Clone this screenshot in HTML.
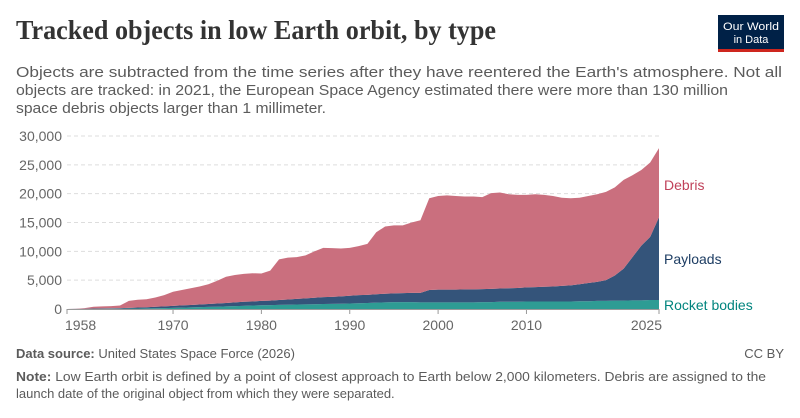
<!DOCTYPE html>
<html><head><meta charset="utf-8"><style>
html,body{margin:0;padding:0;background:#fff;}
svg{display:block;font-family:"Liberation Sans",sans-serif;}
</style></head><body>
<svg id="chart" width="800" height="418" viewBox="0 0 800 418" xmlns="http://www.w3.org/2000/svg">
<text x="16" y="39" font-family="Liberation Serif,serif" font-weight="bold" font-size="27" fill="#333" textLength="480" lengthAdjust="spacingAndGlyphs">Tracked objects in low Earth orbit, by type</text>
<g>
<rect x="718" y="15" width="66" height="35" fill="#002147"/>
<rect x="718" y="49" width="66" height="3" fill="#ce261e"/>
<text x="751" y="30" font-size="11" fill="#fff" text-anchor="middle" textLength="56" lengthAdjust="spacingAndGlyphs">Our World</text>
<text x="751" y="43" font-size="11" fill="#fff" text-anchor="middle">in Data</text>
</g>
<g font-size="15" fill="#5b5b5b">
<text x="16" y="77" textLength="766" lengthAdjust="spacingAndGlyphs">Objects are subtracted from the time series after they have reentered the Earth's atmosphere. Not all</text>
<text x="16" y="95" textLength="712" lengthAdjust="spacingAndGlyphs">objects are tracked: in 2021, the European Space Agency estimated there were more than 130 million</text>
<text x="16" y="113" textLength="310" lengthAdjust="spacingAndGlyphs">space debris objects larger than 1 millimeter.</text>
</g>
<g id="grid"></g>
<g id="areas"></g>
<g id="axes"></g>
<g font-size="14">
<text x="664" y="190" fill="#c0415a">Debris</text>
<text x="664" y="264" fill="#1d3d63">Payloads</text>
<text x="664" y="310" fill="#00847e">Rocket bodies</text>
</g>
<g font-size="13" fill="#5b5b5b">
<text x="16" y="358"><tspan font-weight="bold">Data source:</tspan> United States Space Force (2026)</text>
<text x="784" y="358" text-anchor="end">CC BY</text>
<text x="16" y="381" textLength="750" lengthAdjust="spacingAndGlyphs"><tspan font-weight="bold">Note:</tspan> Low Earth orbit is defined by a point of closest approach to Earth below 2,000 kilometers. Debris are assigned to the</text>
<text x="16" y="398">launch date of the original object from which they were separated.</text>
</g>
</svg>
<script>
const years=[];for(let y=1958;y<=2025;y++)years.push(y);
const rocketBodies=[0,0,10,20,30,40,50,70,90,110,130,160,
200,240,280,320,360,400,450,500,550,600,
650,680,710,740,770,800,830,860,890,920,
950,1000,1050,1100,1150,1200,1200,1200,1150,1150,
1150,1150,1150,1150,1150,1200,1200,1250,1250,1250,
1300,1300,1300,1300,1300,1300,1350,1350,1400,1400,
1450,1450,1500,1500,1550,1550];
const payloads=[0,20,30,60,70,90,110,130,160,190,250,290,
350,380,420,460,500,550,600,650,700,700,
750,770,840,910,980,1050,1120,1190,1210,1280,
1350,1400,1400,1450,1500,1500,1550,1600,1650,2150,
2200,2200,2200,2250,2250,2250,2300,2300,2350,2400,
2450,2500,2550,2600,2700,2800,2950,3150,3300,3600,
4350,5550,7500,9500,10950,14350];
const debris=[0,30,110,320,350,370,440,1200,1350,1400,1620,1950,
2450,2680,2900,3120,3440,3950,4550,4750,4850,4900,
4750,5200,7050,7250,7250,7450,8050,8550,8450,8300,
8300,8500,8850,10750,11650,11800,11750,12200,12600,15900,
16250,16350,16250,16100,16100,15950,16600,16650,16300,16150,
16050,16100,15950,15700,15300,15100,15000,15100,15200,15300,
15300,15400,14200,13100,12900,12000];
const yTicks=[0,5000,10000,15000,20000,25000,30000];
const yTickLabels=["0","5,000","10,000","15,000","20,000","25,000","30,000"];
const xTicks=[1958,1970,1980,1990,2000,2010,2025];

const NS="http://www.w3.org/2000/svg";
const X0=67,X1=659,Y0=309,Y1=136;
const xs=v=>X0+(v-1958)/(2025-1958)*(X1-X0);
const ys=v=>Y0-v/30000*(Y0-Y1);
function mk(t,a,p){const e=document.createElementNS(NS,t);for(const k in a)e.setAttribute(k,a[k]);p.appendChild(e);return e;}
const grid=document.getElementById('grid'),axes=document.getElementById('axes'),areas=document.getElementById('areas');
yTicks.forEach((v,i)=>{
  if(i>0){const l=mk('line',{x1:X0,x2:X1,y1:ys(v),y2:ys(v),stroke:'#ddd','stroke-dasharray':'4,3'},grid);
  
  }
  const t=mk('text',{x:62,y:ys(v)+5,'text-anchor':'end','font-size':14,fill:'#666'},axes);
  t.textContent=yTickLabels[i];
  
  
});
const base=mk('line',{x1:X0,x2:X1,y1:Y0+0.5,y2:Y0+0.5,stroke:'#999'},axes);


xTicks.forEach((v,i)=>{
  mk('line',{x1:xs(v),x2:xs(v),y1:Y0,y2:Y0+5,stroke:'#999'},axes);
  const anchor=i==0?'start':(i==xTicks.length-1?'end':'middle');
  const t=mk('text',{x:i==0?X0-2:(i==xTicks.length-1?X1+3:xs(v)),y:330,'text-anchor':anchor,'font-size':14,fill:'#666'},axes);
  t.textContent=v;
  
  
});
const series=[[rocketBodies,'#2e9c94','area-rocket-bodies'],[payloads,'#34547a','area-payloads'],[debris,'#ca6f7e','area-debris']];
let lower=years.map(()=>0);
series.forEach(([vals,col,name])=>{
  const upper=lower.map((b,i)=>b+vals[i]);
  let d='M'+years.map((y,i)=>xs(y)+','+ys(upper[i])).join('L');
  for(let i=years.length-1;i>=0;i--)d+='L'+xs(years[i])+','+ys(lower[i]);
  const p=mk('path',{d:d+'Z',fill:col},areas);
  
  
  lower=upper;
});
</script>
</body></html>
